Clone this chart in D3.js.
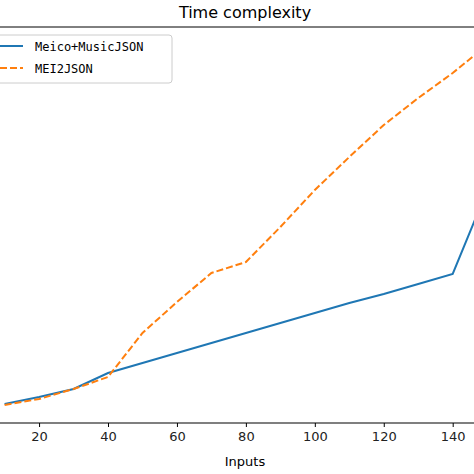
<!DOCTYPE html>
<html><head><meta charset="utf-8">
<script src="https://cdn.jsdelivr.net/npm/d3@7"></script>
<style>body{margin:0;background:#fff}svg{display:block;font-family:"DejaVu Sans",sans-serif}</style>
</head><body>
<svg id="chart" width="474" height="474"></svg>
<script>
// data (y in arbitrary time units)
var inputs = [10, 20, 30, 40, 50, 60, 70, 80, 90, 100, 110, 120, 130, 140, 150];
var meico = [19, 26, 34, 50, 60, 70, 80, 90, 100, 110, 120, 129, 139, 149, 233];
var mei2json = [18, 24, 34, 46, 90, 121, 150, 161, 196, 233, 266, 298, 325, 350, 378];
var xTicks = [20, 40, 60, 80, 100, 120, 140];

var svg = d3.select("#chart");
var plotTop = 27, plotBottom = 423;
var x = d3.scaleLinear().domain([10, 140]).range([4.6, 452.7]);
var y = d3.scaleLinear().domain([0, 400]).range([plotBottom, plotBottom - 400]);

svg.append("defs").append("clipPath").attr("id", "clip")
    .append("rect").attr("x", 0).attr("y", plotTop).attr("width", 474).attr("height", plotBottom - plotTop);

var line = d3.line().x(function(d) { return x(d[0]); }).y(function(d) { return y(d[1]); });
var g = svg.append("g").attr("clip-path", "url(#clip)");
g.append("path").datum(d3.zip(inputs, meico)).attr("d", line)
    .attr("fill", "none").attr("stroke", "#1f77b4").attr("stroke-width", 2);
g.append("path").datum(d3.zip(inputs, mei2json)).attr("d", line)
    .attr("fill", "none").attr("stroke", "#ff7f0e").attr("stroke-width", 2)
    .attr("stroke-dasharray", "7,3");

// frame
svg.append("line").attr("x1", 0).attr("x2", 474).attr("y1", plotTop).attr("y2", plotTop).attr("stroke", "#000").attr("stroke-width", 1);
var xa = svg.append("g").attr("transform", "translate(0," + plotBottom + ")")
    .call(d3.axisBottom(x).tickValues(xTicks).tickSize(4).tickPadding(5));
xa.select(".domain").attr("d", "M0,0H474").attr("stroke-width", 1.2);
xa.selectAll("text").attr("font-size", 13).attr("font-family", "DejaVu Sans").attr("fill", "#222");

svg.append("text").attr("x", 245).attr("y", 466).attr("text-anchor", "middle")
    .attr("font-size", 13).text("Inputs");
svg.append("text").attr("x", 245).attr("y", 18).attr("text-anchor", "middle")
    .attr("font-size", 16).text("Time complexity");

// legend
var lg = svg.append("g");
lg.append("rect").attr("x", -5).attr("y", 35).attr("width", 177).attr("height", 48).attr("rx", 3)
    .attr("fill", "#fff").attr("stroke", "#ccc");
var names = ["Meico+MusicJSON", "MEI2JSON"];
var colors = ["#1f77b4", "#ff7f0e"];
names.forEach(function(n, i) {
    var yy = 46 + i * 22;
    lg.append("line").attr("x1", 0).attr("x2", 23).attr("y1", yy).attr("y2", yy)
        .attr("stroke", colors[i]).attr("stroke-width", 2)
        .attr("stroke-dasharray", i ? "7,3" : null);
    lg.append("text").attr("x", 35).attr("y", yy + 4.5).attr("font-size", 12)
        .attr("font-family", "DejaVu Sans Mono").text(n);
});
</script>
</body></html>
